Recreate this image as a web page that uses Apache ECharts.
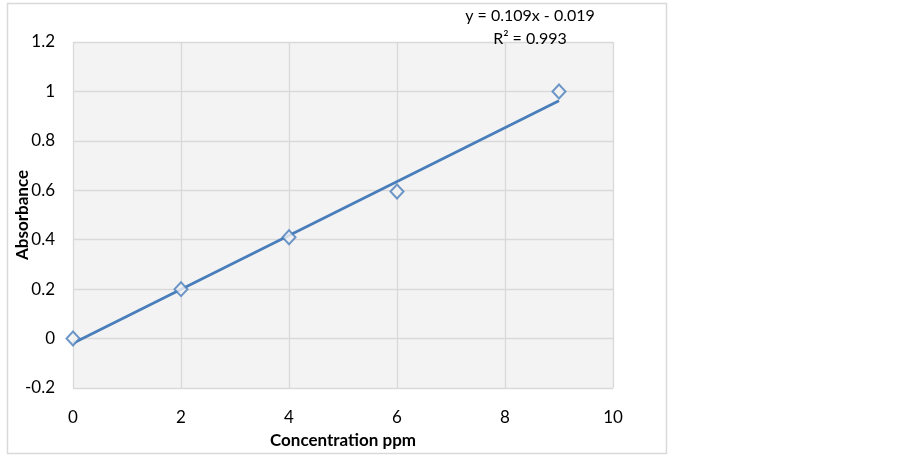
<!DOCTYPE html>
<html>
<head>
<meta charset="utf-8">
<script src="https://cdn.jsdelivr.net/npm/echarts@6/dist/echarts.min.js"></script>
<style>
  html, body { margin: 0; padding: 0; background: #fff; }
  #chart { width: 903px; height: 458px; }
</style>
</head>
<body>
<div id="chart"></div>
<script>
// measured points (concentration ppm, absorbance)
var concentration = [0, 2, 4, 6, 9];
var absorbance = [0, 0.2, 0.41, 0.595, 1.0];
// linear trend line endpoints
var trendX = [0, 9];
var trendY = [-0.019, 0.962];
var equationText = 'y = 0.109x - 0.019';
var r2Text = 'R\u00b2 = 0.993';

var font = 'Lato, "Open Sans", sans-serif';
var blue = '#4A7EBB';

var points = concentration.map(function (x, i) { return [x, absorbance[i]]; });
var trend = trendX.map(function (x, i) { return [x, trendY[i]]; });

var myChart = echarts.init(document.getElementById('chart'));
myChart.setOption({
  animation: false,
  grid: {
    left: 73,
    right: 290,
    top: 42,
    bottom: 70,
    containLabel: false,
    outerBoundsMode: 'none',
    show: true,
    backgroundColor: '#F3F3F3',
    borderWidth: 0
  },
  xAxis: {
    type: 'value',
    min: 0,
    max: 10,
    interval: 2,
    name: 'Concentration ppm',
    nameLocation: 'middle',
    nameGap: 44,
    nameMoveOverlap: false,
    nameTextStyle: { fontFamily: font, fontWeight: 'bold', fontSize: 17, color: '#000' },
    axisLine: { show: false },
    axisTick: { show: false },
    axisLabel: { fontFamily: font, fontSize: 17, color: '#000', margin: 21 },
    splitLine: { show: true, lineStyle: { color: '#D9D9D9', width: 1.3 } }
  },
  yAxis: {
    type: 'value',
    min: -0.2,
    max: 1.2,
    interval: 0.2,
    name: 'Absorbance',
    nameLocation: 'middle',
    nameGap: 42,
    nameMoveOverlap: false,
    nameTextStyle: { fontFamily: font, fontWeight: 'bold', fontSize: 17, color: '#000' },
    axisLine: { show: false },
    axisTick: { show: false },
    axisLabel: {
      fontFamily: font, fontSize: 17, color: '#000', margin: 18,
      formatter: function (v) { return String(Math.round(v * 10) / 10); }
    },
    splitLine: { show: true, lineStyle: { color: '#D9D9D9', width: 1.3 } }
  },
  series: [
    {
      type: 'line',
      data: trend,
      symbol: 'none',
      lineStyle: { color: blue, width: 2.75 },
      z: 2
    },
    {
      type: 'scatter',
      data: points,
      symbol: 'diamond',
      symbolSize: [13, 14],
      itemStyle: { color: '#F3F3F3', borderColor: blue, borderWidth: 2 },
      z: 3
    }
  ],
  graphic: [
    {
      type: 'rect',
      shape: { x: 7.5, y: 3.5, width: 659, height: 450 },
      style: { fill: null, stroke: '#D9D9D9', lineWidth: 1.5 },
      z: -10
    },
    {
      type: 'text',
      x: 530, y: 8,
      z: 100,
      style: { text: equationText, font: '16px ' + font, fill: '#000', align: 'center', verticalAlign: 'top' }
    },
    {
      type: 'text',
      x: 530, y: 31,
      z: 100,
      style: { text: r2Text, font: '16px ' + font, fill: '#000', align: 'center', verticalAlign: 'top' }
    }
  ]
});
</script>
</body>
</html>
